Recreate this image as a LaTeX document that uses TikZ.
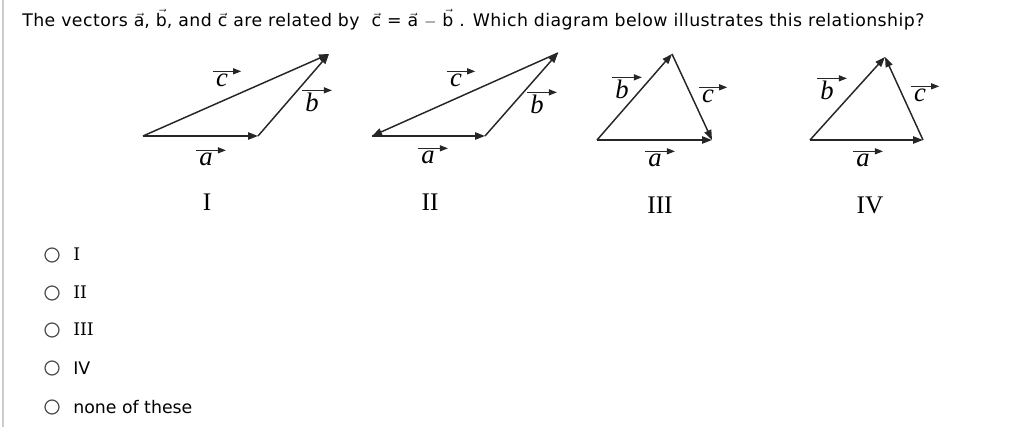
\documentclass[tikz,border=0pt]{standalone}
\usepackage{amsmath}
\usepackage{fontspec}
\setmainfont{DejaVu Sans}
\newfontfamily\figfont{Liberation Serif}
\newfontfamily\optfont{DejaVu Serif}
\usetikzlibrary{arrows.meta, positioning}

\begin{document}
\begin{tikzpicture}[x=0.75pt, y=-0.75pt, >={Triangle[length=7.5pt,width=5.5pt]},
	vec/.style={->, line width=1.1pt, color=black!85},
	lbl/.style={inner sep=0pt, font=\figfont\itshape\fontsize{20}{20}\selectfont},
	over/.style={-{Triangle[length=6pt,width=4.5pt]}, line width=0.9pt, draw=black!85},
	num/.style={inner sep=0pt, font=\figfont\fontsize{19}{19}\selectfont},
	radio/.style={circle, draw=black!70, line width=0.9pt, minimum size=10.5pt, inner sep=0pt},
	opt/.style={anchor=base west, inner sep=0pt, font=\fontsize{13}{15}\selectfont}]
		\useasboundingbox (0,0) rectangle (1024,427);
		\fill[black!20] (2,0) rectangle (4,427);
		\node[opt, font=\addfontfeature{LetterSpace=2.5}\fontsize{13}{15}\selectfont]	(question) at (22,27) {The vectors $\vec{\text{a}}$, $\vec{\text{b}}$, and $\vec{\text{c}}$ are related by \ $\vec{\text{c}}$ = $\vec{\text{a}}$ $-$ $\vec{\text{b}}$ . Which diagram below illustrates this relationship?};
		% diagram I
		\coordinate (I-l) at (143,136);
		\coordinate (I-r) at (258,136);
		\coordinate (I-t) at (329,54);
		\path[vec]
		(I-l)	edge	(I-r)
		(I-r)	edge	(I-t)
		(I-l)	edge	(I-t);
		\node[lbl]	(I-a) at (206,159) {a};
		\node[lbl]	(I-b) at (312,102) {b};
		\node[lbl]	(I-c) at (222,80) {c};
		\node[num]	(I-n) at (207,202) {I};
		% diagram II
		\coordinate (II-l) at (372,136);
		\coordinate (II-r) at (485,136);
		\coordinate (II-t) at (558,53);
		\path[vec]
		(II-l)	edge	(II-r)
		(II-r)	edge	(II-t)
		(II-t)	edge	(II-l);
		\node[lbl]	(II-a) at (428,157) {a};
		\node[lbl]	(II-b) at (537,104) {b};
		\node[lbl]	(II-c) at (456,80) {c};
		\node[num]	(II-n) at (430,202) {II};
		% diagram III
		\coordinate (III-l) at (597,140);
		\coordinate (III-r) at (712,140);
		\coordinate (III-t) at (672,54);
		\path[vec]
		(III-l)	edge	(III-r)
		(III-l)	edge	(III-t)
		(III-t)	edge	(III-r);
		\node[lbl]	(III-a) at (655,160) {a};
		\node[lbl]	(III-b) at (622,89) {b};
		\node[lbl]	(III-c) at (708,96) {c};
		\node[num]	(III-n) at (660,205) {III};
		% diagram IV
		\coordinate (IV-l) at (810,140);
		\coordinate (IV-r) at (923,140);
		\coordinate (IV-t) at (885,57);
		\path[vec]
		(IV-l)	edge	(IV-r)
		(IV-l)	edge	(IV-t)
		(IV-r)	edge	(IV-t);
		\node[lbl]	(IV-a) at (863,160) {a};
		\node[lbl]	(IV-b) at (827,90) {b};
		\node[lbl]	(IV-c) at (920,95) {c};
		\node[num]	(IV-n) at (870,205) {IV};
		% arrows over the letters
		\foreach \d in {I,II,III,IV}
			\foreach \v in {a,b,c}
				\draw[over] ([shift={(-3,-2)}]\d-\v.north west) -- ([shift={(13,-2)}]\d-\v.north east);
		% answer choices
		\node[radio]	(r1) at (52,255) {};
		\node[radio]	(r2) at (52,293) {};
		\node[radio]	(r3) at (52,330) {};
		\node[radio]	(r4) at (52,368) {};
		\node[radio]	(r5) at (52,407) {};
		\node[opt, font=\optfont\fontsize{13}{15}\selectfont]	(o1) at (73,261) {I};
		\node[opt, font=\optfont\fontsize{13}{15}\selectfont]	(o2) at (73,299) {II};
		\node[opt, font=\optfont\fontsize{13}{15}\selectfont]	(o3) at (73,336) {III};
		\node[opt]	(o4) at (73,374) {IV};
		\node[opt]	(o5) at (73,413) {none of these};
\end{tikzpicture}
\end{document}
